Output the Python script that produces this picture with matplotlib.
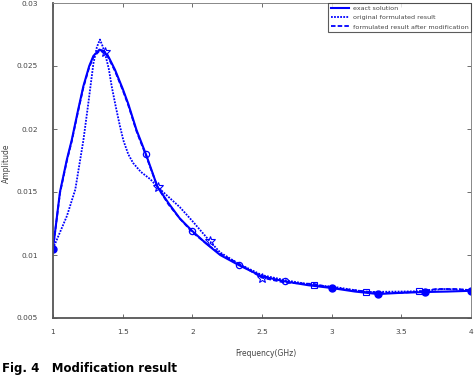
import matplotlib
matplotlib.use("Agg")
import matplotlib.pyplot as plt
import numpy as np

# ---- data ----
exact_f = [1.00, 1.05, 1.10, 1.134, 1.18, 1.218, 1.26, 1.29, 1.333, 1.361, 1.40, 1.445,
           1.50, 1.54, 1.60, 1.667, 1.75, 1.83, 1.91, 2.00, 2.10, 2.20, 2.333, 2.50,
           2.667, 2.833, 3.00, 3.167, 3.333, 3.50, 3.667, 3.833, 4.00]
exact_a = [0.0105, 0.0150, 0.0176, 0.0191, 0.0215, 0.0234, 0.0250, 0.0258, 0.0263, 0.0262,
           0.0257, 0.0247, 0.0232, 0.0220, 0.0199, 0.0180, 0.0154, 0.0141, 0.0129, 0.0119,
           0.0109, 0.0100, 0.0092, 0.0083, 0.0079, 0.0076, 0.00738, 0.0071, 0.0069, 0.0070,
           0.00706, 0.0071, 0.00716]

orig_f = [1.00, 1.05, 1.10, 1.16, 1.218, 1.253, 1.29, 1.315, 1.337, 1.355, 1.373, 1.40,
          1.421, 1.45, 1.481, 1.505, 1.54, 1.575, 1.63, 1.70, 1.75, 1.83, 1.91, 2.00,
          2.125, 2.20, 2.333, 2.50, 2.667, 2.875, 3.00, 3.25, 3.50, 3.625, 3.80, 4.00]
orig_a = [0.0105, 0.0118, 0.0131, 0.0152, 0.0191, 0.0220, 0.0252, 0.0265, 0.0271, 0.0266,
          0.0260, 0.0248, 0.0234, 0.0218, 0.0202, 0.0191, 0.0180, 0.0173, 0.0166, 0.0160,
          0.0154, 0.0146, 0.0138, 0.0127, 0.0111, 0.0102, 0.0093, 0.0084, 0.0080, 0.0076,
          0.0075, 0.00706, 0.0071, 0.00712, 0.0073, 0.00722]

mod_f = [1.00, 1.05, 1.10, 1.134, 1.18, 1.218, 1.26, 1.29, 1.333, 1.375, 1.40, 1.445,
         1.50, 1.54, 1.60, 1.667, 1.75, 1.83, 1.91, 2.00, 2.125, 2.20, 2.333, 2.50,
         2.667, 2.875, 3.00, 3.25, 3.333, 3.50, 3.625, 3.75, 3.90, 4.00]
mod_a = [0.0105, 0.0149, 0.0175, 0.0190, 0.0214, 0.0233, 0.0249, 0.0257, 0.0262, 0.0261,
         0.0256, 0.0246, 0.0231, 0.0219, 0.0198, 0.0179, 0.0154, 0.0140, 0.0129, 0.0118,
         0.0107, 0.0101, 0.0093, 0.0082, 0.0078, 0.0077, 0.0074, 0.0071, 0.0070, 0.0070,
         0.0071, 0.0073, 0.0073, 0.0072]

series_labels = ["exact solution", "original formulated result",
                 "formulated result after modification"]
x_ticks = [1, 1.5, 2, 2.5, 3, 3.5, 4]
x_tick_labels = ["1", "1.5", "2", "2.5", "3", "3.5", "4"]
y_ticks = [0.005, 0.01, 0.015, 0.02, 0.025, 0.03]
y_tick_labels = ["0.005", "0.01", "0.015", "0.02", "0.025", "0.03"]

# marker indices into the series
exact_open_idx = [15, 19, 22, 24]
exact_filled_idx = [0, 26, 28, 30, 32]
mod_star_idx = [9, 16, 23]
orig_star_idx = [24]
orig_square_idx = [29, 31, 33]

BLUE = "#0000ff"

fig = plt.figure(figsize=(4.74, 3.76), dpi=100)
ax = fig.add_axes([53 / 474, 58 / 376, 418 / 474, 315 / 376])

ef, ea = np.array(exact_f), np.array(exact_a)
of, oa = np.array(orig_f), np.array(orig_a)
mf, ma = np.array(mod_f), np.array(mod_a)

l1, = ax.plot(ef, ea, color=BLUE, lw=1.5, ls="-")
l2, = ax.plot(of, oa, color=BLUE, lw=1.3, ls=(0, (1.0, 0.7)))
l3, = ax.plot(mf, ma, color=BLUE, lw=1.3, ls=(0, (2.5, 1.2)))

ax.plot(ef[exact_open_idx], ea[exact_open_idx], "o", mfc="none", mec=BLUE, ms=4.5, mew=0.9)
ax.plot(ef[exact_filled_idx], ea[exact_filled_idx], "o", mfc=BLUE, mec=BLUE, ms=5)
ax.plot(mf[mod_star_idx], ma[mod_star_idx], "*", mfc="none", mec=BLUE, ms=7, mew=0.8)
ax.plot(of[orig_star_idx], oa[orig_star_idx], "*", mfc="none", mec=BLUE, ms=7, mew=0.8)
ax.plot(of[orig_square_idx], oa[orig_square_idx], "s", mfc="none", mec=BLUE, ms=4, mew=0.8)

ax.set_xlim(1, 4)
ax.set_ylim(0.005, 0.03)
ax.set_xticks(x_ticks)
ax.set_xticklabels(x_tick_labels)
ax.set_yticks(y_ticks)
ax.set_yticklabels(y_tick_labels)
ax.tick_params(direction="in", top=True, right=True, length=3, width=0.6,
               color="#555555", labelsize=5.3, labelcolor="#444444")
ax.tick_params(axis="x", pad=8)
ax.tick_params(axis="y", pad=11)

for side in ["top", "right"]:
    ax.spines[side].set_color("#888888")
    ax.spines[side].set_linewidth(0.7)
for side in ["left", "bottom"]:
    ax.spines[side].set_color("#555555")
    ax.spines[side].set_linewidth(1.3)

ax.set_xlabel("Frequency(GHz)", fontsize=5.5, color="#444444")
ax.set_ylabel("Amplitude", fontsize=5.5, color="#444444")
ax.xaxis.set_label_coords(0.51, -0.10)
ax.yaxis.set_label_coords(-0.1, 0.49)

leg = ax.legend([l1, l2, l3], series_labels, loc="upper right", fontsize=4.6,
                frameon=True, fancybox=False, handlelength=2.8, borderpad=0.4,
                labelspacing=0.6, handletextpad=0.6, borderaxespad=0.0)
leg.get_frame().set_edgecolor("#333333")
leg.get_frame().set_linewidth(0.8)
for t in leg.get_texts():
    t.set_color("#444444")

fig.text(0.005, 1 / 376, "Fig. 4   Modification result", fontsize=8.5,
         fontweight="bold", color="black", va="bottom", ha="left")

fig.savefig("out.png", dpi=100)
